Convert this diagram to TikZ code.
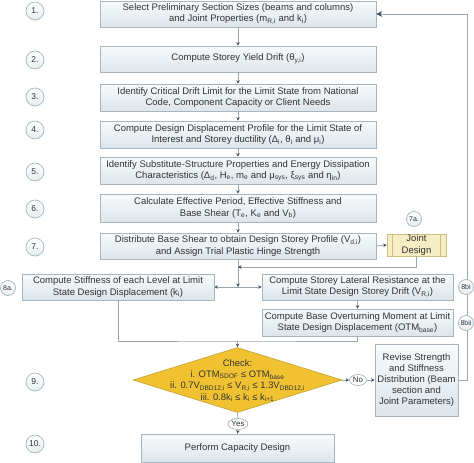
\documentclass[tikz,border=0pt]{standalone}
\usepackage{fontspec}
\setmainfont{Liberation Sans}
\usetikzlibrary{shapes.geometric,arrows.meta,calc}
\definecolor{txt}{HTML}{333333}
\definecolor{bord}{HTML}{A8B5BE}
\definecolor{topc}{HTML}{F8FAFB}
\definecolor{botc}{HTML}{DCE5EB}
\definecolor{linec}{HTML}{9AA7B0}
\definecolor{tipc}{HTML}{3E4E5A}
\definecolor{gold}{HTML}{F0C232}
\definecolor{goldb}{HTML}{C9A636}
\definecolor{jfill}{HTML}{F6EDC4}
\definecolor{jbord}{HTML}{CDBE82}
\tikzset{
  stepbox/.style={draw=bord, line width=0.7pt, top color=topc, bottom color=botc,
    align=center, text=txt, font=\fontsize{9.5}{11.3}\selectfont, inner sep=0pt},
  numlab/.style={circle, draw=bord, line width=0.7pt, top color=white, bottom color=botc!70,
    minimum size=18pt, inner sep=0pt, text=txt, font=\fontsize{8.5}{9}\selectfont},
  smalllab/.style={numlab, minimum size=15pt, font=\fontsize{7}{8}\selectfont},
  oval/.style={ellipse, draw=bord, line width=0.7pt, fill=white, inner sep=0.5pt,
    minimum width=17pt, minimum height=11pt, text=txt, font=\fontsize{8}{9}\selectfont},
  conn/.style={draw=linec, line width=0.8pt},
  arr/.style={conn, -{Stealth[length=3.5pt,width=3.5pt,color=tipc]}},
  bigarr/.style={conn, -{Stealth[length=6pt,width=6pt,color=tipc]}},
}
\begin{document}
\begin{tikzpicture}[x=1pt,y=-1pt]
\useasboundingbox (0,0) rectangle (474,463);
% step boxes
\node[stepbox, minimum width=276pt, minimum height=26pt] (b1) at (238,14)
  {Select Preliminary Section Sizes (beams and columns)\\and Joint Properties (m\textsubscript{R,i} and k\textsubscript{i})};
\node[stepbox, minimum width=276pt, minimum height=26pt] (b2) at (238,59)
  {Compute Storey Yield Drift (θ\textsubscript{y,i})};
\node[stepbox, minimum width=276pt, minimum height=27pt] (b3) at (238,97.5)
  {Identify Critical Drift Limit for the Limit State from National\\Code, Component Capacity or Client Needs};
\node[stepbox, minimum width=276pt, minimum height=27pt] (b4) at (238,134.5)
  {Compute Design Displacement Profile for the Limit State of\\Interest and Storey ductility (Δ\textsubscript{i}, θ\textsubscript{i} and μ\textsubscript{i})};
\node[stepbox, minimum width=276pt, minimum height=27pt] (b5) at (238,170.5)
  {Identify Substitute-Structure Properties and Energy Dissipation\\Characteristics (Δ\textsubscript{d}, H\textsubscript{e}, m\textsubscript{e} and μ\textsubscript{sys}, ξ\textsubscript{sys} and η\textsubscript{in})};
\node[stepbox, minimum width=276pt, minimum height=28pt] (b6) at (238,208)
  {Calculate Effective Period, Effective Stiffness and\\Base Shear (T\textsubscript{e}, K\textsubscript{e} and V\textsubscript{b})};
\node[stepbox, minimum width=276pt, minimum height=26pt] (b7) at (238,246)
  {Distribute Base Shear to obtain Design Storey Profile (V\textsubscript{d,i})\\and Assign Trial Plastic Hinge Strength};
\node[draw=jbord, line width=0.7pt, fill=jfill, minimum width=59pt, minimum height=22pt,
  inner sep=0pt, align=center, text=txt, font=\fontsize{9.5}{11.3}\selectfont] (jd) at (416.5,245) {Joint\\Design};
\draw[jbord, line width=0.7pt] ([xshift=6pt]jd.north west) -- ([xshift=6pt]jd.south west);
\draw[jbord, line width=0.7pt] ([xshift=-6pt]jd.north east) -- ([xshift=-6pt]jd.south east);
\node[stepbox, minimum width=192pt, minimum height=26pt] (b8a) at (118,287)
  {Compute Stiffness of each Level at Limit\\State Design Displacement (k\textsubscript{i})};
\node[stepbox, minimum width=191pt, minimum height=26pt] (b8bi) at (357.5,287)
  {Compute Storey Lateral Resistance at the\\Limit State Design Storey Drift (V\textsubscript{R,i})};
\node[stepbox, minimum width=191pt, minimum height=27pt] (b8bii) at (357.5,322.5)
  {Compute Base Overturning Moment at Limit\\State Design Displacement (OTM\textsubscript{base})};
\node[diamond, draw=goldb, line width=0.7pt, fill=gold, minimum width=209pt, minimum height=65pt,
  inner sep=0pt] (chk) at (237.5,380) {};
\node[align=center, text=txt, font=\fontsize{9.4}{11.3}\selectfont] (chkt) at (237.5,380.5)
  {Check:\\i. OTM\textsubscript{SDOF} ≤ OTM\textsubscript{base}\\ii. 0.7V\textsubscript{DBD12,i} ≤ V\textsubscript{R,i} ≤ 1.3V\textsubscript{DBD12,i}\\iii. 0.8k\textsubscript{i} ≤ k\textsubscript{i} ≤ k\textsubscript{i+1}};
\node[stepbox, minimum width=83pt, minimum height=72pt, font=\fontsize{9.5}{11}\selectfont] (rev) at (416.5,380)
  {Revise Strength\\and Stiffness\\Distribution (Beam\\section and\\Joint Parameters)};
\node[oval] (no) at (358,380) {No};
\node[oval] (yes) at (238,424) {Yes};
\node[stepbox, minimum width=193pt, minimum height=28pt] (b10) at (237.5,448) {Perform Capacity Design};
% step numbers
\node[numlab] (n1) at (35,11) {1.};
\node[numlab] (n2) at (35,60) {2.};
\node[numlab] (n3) at (35,97) {3.};
\node[numlab] (n4) at (35,130) {4.};
\node[numlab] (n5) at (35,172) {5.};
\node[numlab] (n6) at (35,209) {6.};
\node[numlab] (n7) at (35,247) {7.};
\node[numlab] (n9) at (35,382) {9.};
\node[numlab] (n10) at (35,444) {10.};
\node[smalllab] (n7a) at (414,219) {7a.};
\node[smalllab] (n8a) at (8,288) {8a.};
% connectors
\draw[arr] (b1) -- (b2);
\draw[arr] (b2) -- (b3);
\draw[arr] (b3) -- (b4);
\draw[arr] (b4) -- (b5);
\draw[arr] (b5) -- (b6);
\draw[arr] (b6) -- (b7);
\draw[arr] (b7.east) -- (jd.west);
\coordinate (j) at (238,287);
\coordinate (j2) at (238,267);
\draw[arr] (b7.south) -- (j);
\draw[arr] (jd.south) |- (j2);
\draw[arr] (j) -- (b8a.east);
\draw[arr] (j) -- (b8bi.west);
\draw[arr] (b8bi) -- (b8bii);
\coordinate (m) at (237.5,341);
\draw[conn] (b8a.south) |- (m) -| (b8bii.south);
\draw[arr] (m) -- (chk.north);
\draw[arr] (chk.east) -- (no.west);
\draw[arr] (no.east) -- (rev.west);
\draw[conn] (chk.south) -- (yes.north);
\draw[arr] (yes.south) -- (b10.north);
\coordinate (r1) at (467,380);
\coordinate (r2) at (467,14);
\draw[bigarr] (rev.east) -- (r1) -- (r2) -- (b1.east);
\node[smalllab] (n8bi) at (466,287) {8bi};
\node[smalllab] (n8bii) at (466,323) {8bii};
\end{tikzpicture}
\end{document}
